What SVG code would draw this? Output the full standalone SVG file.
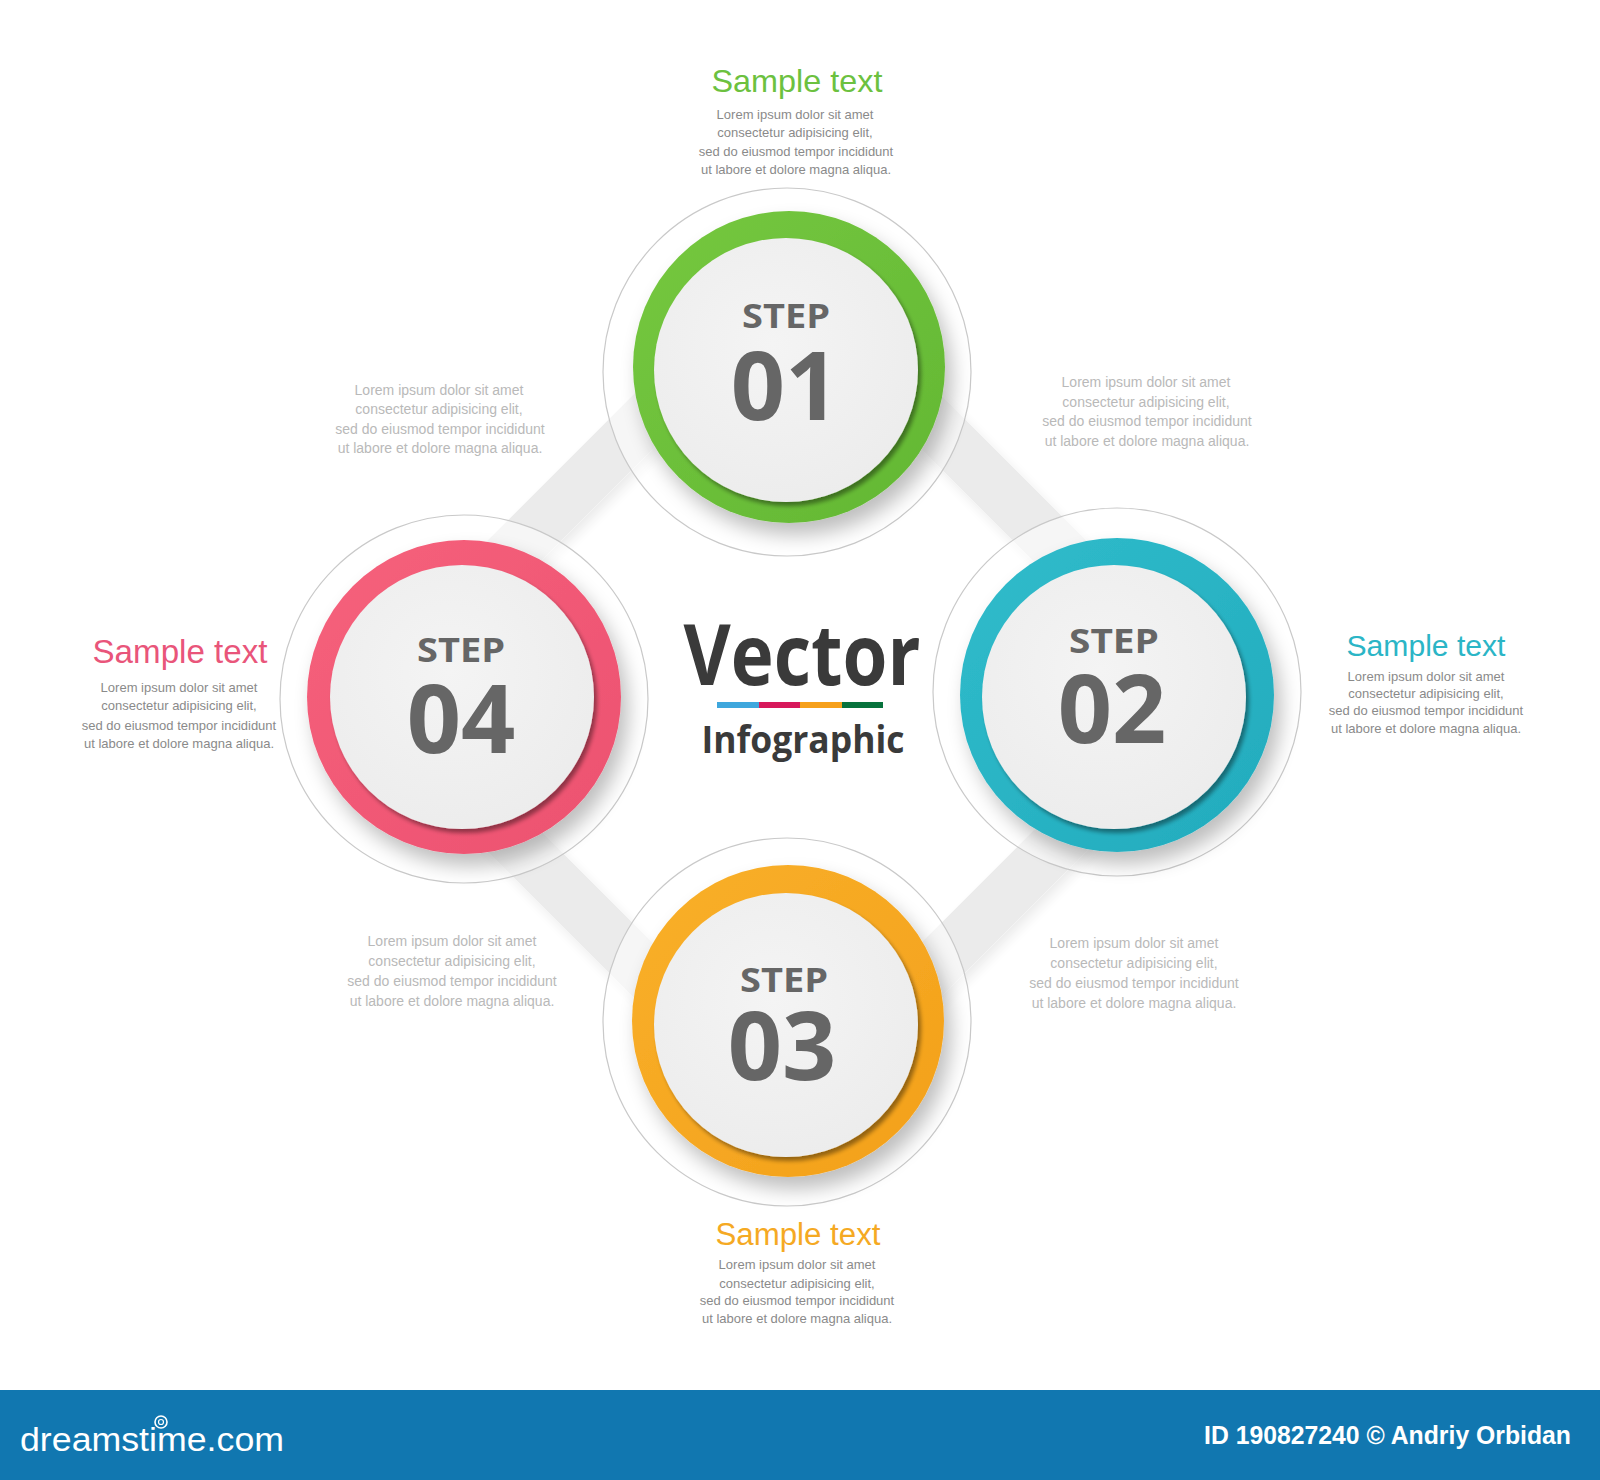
<svg xmlns="http://www.w3.org/2000/svg" width="1600" height="1480" viewBox="0 0 1600 1480">
<style>
.title{font-family:"Liberation Sans",Arial,sans-serif;text-anchor:middle}
.lorem{font-family:"Liberation Sans",Arial,sans-serif;font-size:13px;fill:#8a8a8a;text-anchor:middle}
.lorem-light{font-family:"Liberation Sans",Arial,sans-serif;font-size:14px;fill:#b9b9b9;text-anchor:middle}
.step{font-family:"Open Sans","Liberation Sans",sans-serif;font-weight:700;font-size:34px;fill:#666;text-anchor:middle}
.num{font-family:"Open Sans","Liberation Sans",sans-serif;font-weight:700;font-size:95px;fill:#666;text-anchor:middle}
.outer{fill:#fff;fill-opacity:0.55;stroke:#c9c9c9;stroke-width:1.2}
.disk{fill:url(#diskGrad);filter:url(#diskShadow)}
.ring{filter:url(#ringShadow)}
</style>
<defs>
<filter id="ringShadow" x="-30%" y="-30%" width="170%" height="170%">
<feGaussianBlur in="SourceAlpha" stdDeviation="10"/>
<feOffset dx="7" dy="12"/>
<feComponentTransfer><feFuncA type="linear" slope="0.26"/></feComponentTransfer>
<feMerge><feMergeNode/><feMergeNode in="SourceGraphic"/></feMerge>
</filter>
<filter id="diskShadow" x="-20%" y="-20%" width="140%" height="140%">
<feGaussianBlur in="SourceAlpha" stdDeviation="2"/>
<feOffset dx="3" dy="4"/>
<feComponentTransfer><feFuncA type="linear" slope="0.4"/></feComponentTransfer>
<feMerge><feMergeNode/><feMergeNode in="SourceGraphic"/></feMerge>
</filter>
<filter id="bandShadow" x="-20%" y="-20%" width="140%" height="140%">
<feGaussianBlur in="SourceAlpha" stdDeviation="6"/>
<feOffset dx="4" dy="6"/>
<feComponentTransfer><feFuncA type="linear" slope="0.08"/></feComponentTransfer>
<feMerge><feMergeNode/><feMergeNode in="SourceGraphic"/></feMerge>
</filter>
<radialGradient id="diskGrad" cx="0.45" cy="0.4" r="0.65">
<stop offset="0" stop-color="#f4f4f4"/>
<stop offset="1" stop-color="#ececec"/>
</radialGradient>
<linearGradient id="gGreen" x1="0" y1="0" x2="1" y2="1"><stop offset="0" stop-color="#76c840"/><stop offset="1" stop-color="#62b733"/></linearGradient>
<linearGradient id="gTeal" x1="0" y1="0" x2="1" y2="1"><stop offset="0" stop-color="#30bccb"/><stop offset="1" stop-color="#22abbd"/></linearGradient>
<linearGradient id="gOrange" x1="0" y1="0" x2="1" y2="1"><stop offset="0" stop-color="#f9b02a"/><stop offset="1" stop-color="#f3a01a"/></linearGradient>
<linearGradient id="gPink" x1="0" y1="0" x2="1" y2="1"><stop offset="0" stop-color="#f6617c"/><stop offset="1" stop-color="#ec5170"/></linearGradient>
</defs>
<rect width="1600" height="1480" fill="#ffffff"/>

<g id="connectors">
<polygon points="787,278 1205,696 787,1114 369,696" fill="none" stroke="#ebebeb" stroke-width="52" stroke-linejoin="miter" filter="url(#bandShadow)"/>
</g>

<g id="step01">
<circle class="outer" cx="787" cy="372" r="184"/>
<circle class="ring" cx="789" cy="367" r="156" fill="url(#gGreen)"/>
<circle class="disk" cx="786" cy="370" r="132"/>
<text class="step" x="786" y="328" textLength="88" lengthAdjust="spacingAndGlyphs">STEP</text>
<text class="num" x="785" y="420">01</text>
</g>

<g id="step02">
<circle class="outer" cx="1117" cy="692" r="184"/>
<circle class="ring" cx="1117" cy="695" r="157" fill="url(#gTeal)"/>
<circle class="disk" cx="1114" cy="697" r="132"/>
<text class="step" x="1114" y="653" textLength="90" lengthAdjust="spacingAndGlyphs">STEP</text>
<text class="num" x="1112" y="743">02</text>
</g>

<g id="step03">
<circle class="outer" cx="787" cy="1022" r="184"/>
<circle class="ring" cx="788" cy="1021" r="156" fill="url(#gOrange)"/>
<circle class="disk" cx="786" cy="1025" r="132"/>
<text class="step" x="784" y="992" textLength="88" lengthAdjust="spacingAndGlyphs">STEP</text>
<text class="num" x="782" y="1080">03</text>
</g>

<g id="step04">
<circle class="outer" cx="464" cy="699" r="184"/>
<circle class="ring" cx="464" cy="697" r="157" fill="url(#gPink)"/>
<circle class="disk" cx="462" cy="697" r="132"/>
<text class="step" x="461" y="662" textLength="88" lengthAdjust="spacingAndGlyphs">STEP</text>
<text class="num" x="461" y="753">04</text>
</g>

<g id="center-title">
<text x="802" y="685" font-family="'Open Sans','Liberation Sans',sans-serif" font-weight="700" font-size="84" fill="#3a3a3a" text-anchor="middle" textLength="237" lengthAdjust="spacingAndGlyphs">Vector</text>
<rect x="717" y="702" width="42" height="6" fill="#3ea7dd"/>
<rect x="759" y="702" width="41" height="6" fill="#d7185b"/>
<rect x="800" y="702" width="42" height="6" fill="#f6a01b"/>
<rect x="842" y="702" width="41" height="6" fill="#07723c"/>
<text x="803" y="753" font-family="'Open Sans','Liberation Sans',sans-serif" font-weight="700" font-size="38" fill="#3a3a3a" text-anchor="middle" textLength="203" lengthAdjust="spacingAndGlyphs">Infographic</text>
</g>

<g id="text-top">
<text class="title" x="797" y="92" font-size="32" fill="#6cc13f" textLength="171" lengthAdjust="spacingAndGlyphs">Sample text</text>
<text class="lorem" x="795" y="119">Lorem ipsum dolor sit amet</text>
<text class="lorem" x="795" y="137">consectetur adipisicing elit,</text>
<text class="lorem" x="796" y="156">sed do eiusmod tempor incididunt</text>
<text class="lorem" x="796" y="174">ut labore et dolore magna aliqua.</text>
</g>

<g id="text-right">
<text class="title" x="1426" y="656" font-size="30" fill="#2bb5c6" textLength="159" lengthAdjust="spacingAndGlyphs">Sample text</text>
<text class="lorem" x="1426" y="681" font-size="12">Lorem ipsum dolor sit amet</text>
<text class="lorem" x="1426" y="698" font-size="12">consectetur adipisicing elit,</text>
<text class="lorem" x="1426" y="715" font-size="12">sed do eiusmod tempor incididunt</text>
<text class="lorem" x="1426" y="733" font-size="12">ut labore et dolore magna aliqua.</text>
</g>

<g id="text-bottom">
<text class="title" x="798" y="1245" font-size="31" fill="#f5a923" textLength="165" lengthAdjust="spacingAndGlyphs">Sample text</text>
<text class="lorem" x="797" y="1269" font-size="12.5">Lorem ipsum dolor sit amet</text>
<text class="lorem" x="797" y="1288" font-size="12.5">consectetur adipisicing elit,</text>
<text class="lorem" x="797" y="1305" font-size="12.5">sed do eiusmod tempor incididunt</text>
<text class="lorem" x="797" y="1323" font-size="12.5">ut labore et dolore magna aliqua.</text>
</g>

<g id="text-left">
<text class="title" x="180" y="663" font-size="33" fill="#e9557a" textLength="175" lengthAdjust="spacingAndGlyphs">Sample text</text>
<text class="lorem" x="179" y="692">Lorem ipsum dolor sit amet</text>
<text class="lorem" x="179" y="710">consectetur adipisicing elit,</text>
<text class="lorem" x="179" y="730">sed do eiusmod tempor incididunt</text>
<text class="lorem" x="179" y="748">ut labore et dolore magna aliqua.</text>
</g>

<g id="text-upper-left">
<text class="lorem-light" x="439" y="395">Lorem ipsum dolor sit amet</text>
<text class="lorem-light" x="439" y="414">consectetur adipisicing elit,</text>
<text class="lorem-light" x="440" y="434">sed do eiusmod tempor incididunt</text>
<text class="lorem-light" x="440" y="453">ut labore et dolore magna aliqua.</text>
</g>

<g id="text-upper-right">
<text class="lorem-light" x="1146" y="387">Lorem ipsum dolor sit amet</text>
<text class="lorem-light" x="1146" y="407">consectetur adipisicing elit,</text>
<text class="lorem-light" x="1147" y="426">sed do eiusmod tempor incididunt</text>
<text class="lorem-light" x="1147" y="446">ut labore et dolore magna aliqua.</text>
</g>

<g id="text-lower-left">
<text class="lorem-light" x="452" y="946">Lorem ipsum dolor sit amet</text>
<text class="lorem-light" x="452" y="966">consectetur adipisicing elit,</text>
<text class="lorem-light" x="452" y="986">sed do eiusmod tempor incididunt</text>
<text class="lorem-light" x="452" y="1006">ut labore et dolore magna aliqua.</text>
</g>

<g id="text-lower-right">
<text class="lorem-light" x="1134" y="948">Lorem ipsum dolor sit amet</text>
<text class="lorem-light" x="1134" y="968">consectetur adipisicing elit,</text>
<text class="lorem-light" x="1134" y="988">sed do eiusmod tempor incididunt</text>
<text class="lorem-light" x="1134" y="1008">ut labore et dolore magna aliqua.</text>
</g>

<g id="footer">
<rect x="0" y="1390" width="1600" height="90" fill="#1177b0"/>
<circle cx="161" cy="1422" r="6" fill="none" stroke="#fff" stroke-width="1.6"/>
<circle cx="161" cy="1422" r="2.5" fill="none" stroke="#fff" stroke-width="1.2"/>
<text x="20" y="1451" font-family="'Liberation Sans',Arial,sans-serif" font-size="33" fill="#ffffff" textLength="264" lengthAdjust="spacingAndGlyphs">dreamstime.com</text>
<text x="1204" y="1444" font-family="'Liberation Sans',Arial,sans-serif" font-weight="700" font-size="25" fill="#ffffff" textLength="367" lengthAdjust="spacingAndGlyphs">ID 190827240 © Andriy Orbidan</text>
</g>
</svg>
